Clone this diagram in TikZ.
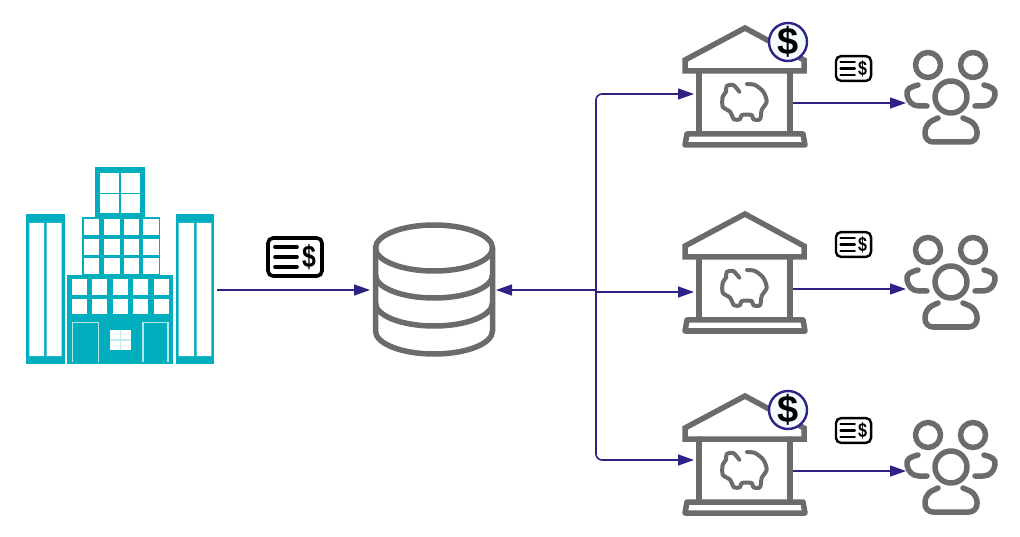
\documentclass[tikz,border=0pt]{standalone}
\usepackage{fontspec}
\setmainfont{Liberation Sans}
\usetikzlibrary{arrows.meta, positioning}
\definecolor{flowblue}{HTML}{2E2285}
\definecolor{icongray}{HTML}{6B6B6B}
\definecolor{towerteal}{HTML}{00AEBD}
\definecolor{coinfill}{HTML}{F5FAFF}
\tikzset{
  flow/.style={draw=flowblue, line width=1.6pt, -{Triangle[length=16pt,width=11pt]}},
  anchorbox/.style={inner sep=0pt, outer sep=0pt},
  iconline/.style={draw=icongray, line width=5.5pt, line join=round, line cap=round},
  coin/.style={circle, draw=flowblue, fill=coinfill, line width=2.4pt, minimum size=38pt, inner sep=0pt, font=\fontsize{38}{38}\selectfont\bfseries},
  pics/bank/.style={code={
    \draw[iconline, line join=miter] (0,3) -- (-60,35) -- (-60,46) -- (59,46) -- (59,35) -- cycle;
    \draw[iconline] (-46,46) -- (-46,106) (45,46) -- (45,106);
    \draw[iconline] (-58,109) -- (58,109) -- (60,120) -- (-60,120) -- cycle;
    % piggy
    \draw[draw=icongray, line width=4pt, line cap=round, line join=round] plot[smooth, tension=0.45] coordinates {(-5.7,66.7) (-11.7,60) (-18.3,61) (-19,66.7) (-22.3,71.7) (-22.3,81.7) (-15,86.7) (-11,94.3) (-5,94.3) (-3.3,90) (6.7,90) (8.3,94.3) (15,94.3) (16.7,85) (21.7,76.7) (18.3,66.7) (10,60) (2,59)};
  }},
  pics/people/.style={code={
    \draw[iconline] (-23,-32) circle (12.5);
    \draw[iconline] (22,-32) circle (12.5);
    \draw[iconline] (0,0) circle (16);
    \draw[iconline] (-33,-12) .. controls (-41,-10) and (-45,-8) .. (-44,-2) .. controls (-43,4) and (-39,9) .. (-32,9) -- (-24,9);
    \draw[iconline] (33,-12) .. controls (41,-10) and (45,-8) .. (44,-2) .. controls (43,4) and (39,9) .. (32,9) -- (24,9);
    \draw[iconline, rounded corners=8pt] (-13,21) -- (-26,27) -- (-26,45) -- (26,45) -- (26,27) -- (12,21);
  }},
  pics/bill/.style={code={
    \draw[black, line width=#1, rounded corners=5pt] (-27,-19) rectangle (27,19);
    \foreach \ypos in {-10,0,10}
      \draw[black, line width=#1, line cap=round] (-20,\ypos) -- (2,\ypos);
    \node[transform shape, xscale=0.8, inner sep=0pt, font=\fontsize{31}{31}\selectfont\bfseries] at (14,0) {\$};
  }}
}
\begin{document}
\begin{tikzpicture}[x=1pt, y=-1pt]
\useasboundingbox (0,0) rectangle (1020,537);
% tall office block
\fill[towerteal] (26,214) rectangle (65,364);
\fill[towerteal] (176,214) rectangle (214,364);
\fill[towerteal] (95,167) rectangle (145,218);
\fill[towerteal] (82,217) rectangle (160,276);
\fill[towerteal] (67,275) rectangle (173,364);
\fill[white] (29.3,223) rectangle (44,356) (46.7,223) rectangle (61.7,356);
\fill[white] (178.7,223) rectangle (194,356) (196.7,223) rectangle (211.3,356);
\foreach \xpos in {100,120.7}
  \foreach \ypos in {173.3,194}
    \fill[white] (\xpos,\ypos) rectangle +(19.3,19.3);
\foreach \xpos in {84,104.3,123.7,143.3}
  \foreach \ypos in {219,239,258.3}
    \fill[white] (\xpos,\ypos) rectangle +(15.3,15.7);
\foreach \xpos in {71.7,92,112.7,133.3,154}
  \foreach \ypos in {279.3,299}
    \fill[white] (\xpos,\ypos) rectangle +(15,15.5);
\draw[white!70!towerteal, line width=1.8pt] (72.5,362) -- (72.5,322.5) -- (98.5,322.5) -- (98.5,362);
\draw[white!70!towerteal, line width=1.8pt] (143,362) -- (143,322.5) -- (168,322.5) -- (168,362);
\fill[white] (110,330) rectangle (130.7,350);
\draw[white!75!towerteal, line width=1.4pt] (120.3,330) -- (120.3,350) (110,340) -- (130.7,340);
\node[anchorbox, minimum width=193pt, minimum height=150pt] (office) at (120,289) {};
% database
\draw[iconline] (375.5,248) arc[start angle=180, end angle=-180, x radius=58.5, y radius=23];
\draw[iconline] (375.5,248) -- (375.5,331) arc[start angle=180, end angle=0, x radius=58.5, y radius=23] -- (492.5,248);
\draw[iconline] (375.5,275) arc[start angle=180, end angle=0, x radius=58.5, y radius=23];
\draw[iconline] (375.5,303) arc[start angle=180, end angle=0, x radius=58.5, y radius=23];
\node[anchorbox, minimum width=126pt, minimum height=135pt] (store) at (433,290) {};
% banks and customers
\pic at (745,25) {bank};
\pic at (745,211) {bank};
\pic at (745,393) {bank};
\node[anchorbox, minimum width=99pt, minimum height=76pt] (bankA) at (743.5,94) {};
\node[anchorbox, minimum width=99pt, minimum height=76pt] (bankB) at (743.5,292) {};
\node[anchorbox, minimum width=99pt, minimum height=76pt] (bankC) at (743.5,460) {};
\node[coin] (coinA) at (788,42) {\$};
\node[coin] (coinC) at (788,410) {\$};
\pic at (951,97) {people};
\pic at (951,282) {people};
\pic at (951,467) {people};
\node[anchorbox, minimum width=90pt, minimum height=80pt] (peopleA) at (951,103) {};
\node[anchorbox, minimum width=90pt, minimum height=80pt] (peopleB) at (951,289) {};
\node[anchorbox, minimum width=90pt, minimum height=80pt] (peopleC) at (951,471) {};
\pic at (295,257) {bill=3.6pt};
\pic[scale=0.65] at (853.5,68.5) {bill=2.4pt};
\pic[scale=0.65] at (853.5,244.5) {bill=2.4pt};
\pic[scale=0.65] at (853.5,430.5) {bill=2.4pt};
% connectors
\coordinate (hub) at (596,290);
\draw[flow] (office.east |- store.west) -- (store.west);
\draw[flow] (hub) -- (store.east);
\draw[flow, rounded corners=6pt] (hub) |- (bankA.west);
\draw[flow, rounded corners=6pt] (hub) |- (bankC.west);
\draw[flow] (hub) |- (bankB.west);
\draw[flow] (bankA.east |- peopleA.west) -- (peopleA.west);
\draw[flow] (bankB.east |- peopleB.west) -- (peopleB.west);
\draw[flow] (bankC.east |- peopleC.west) -- (peopleC.west);
\end{tikzpicture}
\end{document}
